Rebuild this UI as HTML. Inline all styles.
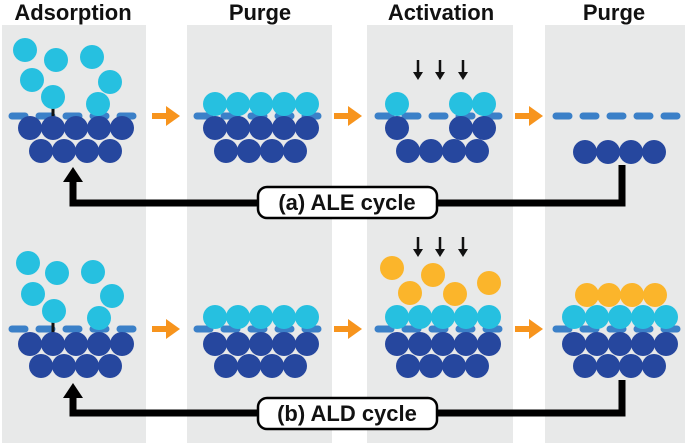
<!DOCTYPE html>
<html><head><style>body{margin:0;background:#fff}svg{display:block}</style></head><body>
<svg width="685" height="443" viewBox="0 0 685 443" xmlns="http://www.w3.org/2000/svg" font-family="Liberation Sans, sans-serif">
<defs>
<g id="arw"><rect x="0" y="-3" width="16" height="6" fill="#f7941d"/><polygon points="14,-10 28,0 14,10" fill="#f7941d"/></g>
<g id="dn"><line x1="0" y1="0" x2="0" y2="15" stroke="#111" stroke-width="2.5"/><polygon points="-5,12 5,12 0,20" fill="#111"/></g>
</defs>
<rect x="2" y="25" width="144" height="418" fill="#e8e9e9"/>
<rect x="187" y="25" width="145" height="418" fill="#e8e9e9"/>
<rect x="367" y="25" width="146" height="418" fill="#e8e9e9"/>
<rect x="545" y="25" width="140" height="418" fill="#e8e9e9"/>
<g font-weight="bold" font-size="22" fill="#111" text-anchor="middle">
<text x="73" y="20">Adsorption</text><text x="260" y="20">Purge</text>
<text x="441" y="20">Activation</text><text x="614" y="20">Purge</text></g>
<g stroke="#3b80c8" stroke-width="7" stroke-linecap="round" stroke-dasharray="13 14">
<line x1="12" y1="116" x2="135" y2="116"/><line x1="197" y1="116" x2="320" y2="116"/>
<line x1="378" y1="116" x2="502" y2="116"/><line x1="556" y1="116" x2="682" y2="116"/>
<line x1="12" y1="329" x2="135" y2="329"/><line x1="197" y1="329" x2="320" y2="329"/>
<line x1="378" y1="329" x2="502" y2="329"/><line x1="556" y1="329" x2="682" y2="329"/></g>
<use href="#arw" x="152" y="116"/><use href="#arw" x="334" y="116"/><use href="#arw" x="515" y="116"/>
<use href="#arw" x="152" y="329"/><use href="#arw" x="334" y="329"/><use href="#arw" x="515" y="329"/>
<g stroke="#111" stroke-width="3">
<line x1="53" y1="106" x2="53" y2="120"/><line x1="53" y1="319" x2="53" y2="333"/></g>
<g fill="#26479e">
<circle cx="30" cy="128" r="12"/><circle cx="53" cy="128" r="12"/><circle cx="76" cy="128" r="12"/><circle cx="99" cy="128" r="12"/><circle cx="122" cy="128" r="12"/>
<circle cx="41" cy="151" r="12"/><circle cx="64" cy="151" r="12"/><circle cx="87" cy="151" r="12"/><circle cx="110" cy="151" r="12"/>
<circle cx="215" cy="128" r="12"/><circle cx="238" cy="128" r="12"/><circle cx="261" cy="128" r="12"/><circle cx="284" cy="128" r="12"/><circle cx="307" cy="128" r="12"/>
<circle cx="226" cy="151" r="12"/><circle cx="249" cy="151" r="12"/><circle cx="272" cy="151" r="12"/><circle cx="295" cy="151" r="12"/>
<circle cx="397" cy="128" r="12"/><circle cx="461" cy="128" r="12"/><circle cx="484" cy="128" r="12"/>
<circle cx="408" cy="151" r="12"/><circle cx="431" cy="151" r="12"/><circle cx="454" cy="151" r="12"/><circle cx="477" cy="151" r="12"/>
<circle cx="585" cy="152" r="12"/><circle cx="608" cy="152" r="12"/><circle cx="631" cy="152" r="12"/><circle cx="654" cy="152" r="12"/>
</g>
<g fill="#26c0e0">
<circle cx="25" cy="50" r="12"/><circle cx="56" cy="60" r="12"/><circle cx="92" cy="57" r="12"/><circle cx="32" cy="80" r="12"/><circle cx="110" cy="82" r="12"/><circle cx="53" cy="97" r="12"/><circle cx="98" cy="104" r="12"/>
<circle cx="215" cy="104" r="12"/><circle cx="238" cy="104" r="12"/><circle cx="261" cy="104" r="12"/><circle cx="284" cy="104" r="12"/><circle cx="307" cy="104" r="12"/>
<circle cx="397" cy="104" r="12"/><circle cx="461" cy="104" r="12"/><circle cx="484" cy="104" r="12"/>
</g>
<use href="#dn" x="418" y="60"/><use href="#dn" x="440" y="60"/><use href="#dn" x="463" y="60"/>
<g fill="#26479e">
<circle cx="30" cy="344" r="12"/><circle cx="53" cy="344" r="12"/><circle cx="76" cy="344" r="12"/><circle cx="99" cy="344" r="12"/><circle cx="122" cy="344" r="12"/>
<circle cx="41" cy="366" r="12"/><circle cx="64" cy="366" r="12"/><circle cx="87" cy="366" r="12"/><circle cx="110" cy="366" r="12"/>
<circle cx="215" cy="344" r="12"/><circle cx="238" cy="344" r="12"/><circle cx="261" cy="344" r="12"/><circle cx="284" cy="344" r="12"/><circle cx="307" cy="344" r="12"/>
<circle cx="226" cy="366" r="12"/><circle cx="249" cy="366" r="12"/><circle cx="272" cy="366" r="12"/><circle cx="295" cy="366" r="12"/>
<circle cx="397" cy="344" r="12"/><circle cx="420" cy="344" r="12"/><circle cx="443" cy="344" r="12"/><circle cx="466" cy="344" r="12"/><circle cx="489" cy="344" r="12"/>
<circle cx="408" cy="366" r="12"/><circle cx="431" cy="366" r="12"/><circle cx="454" cy="366" r="12"/><circle cx="477" cy="366" r="12"/>
<circle cx="574" cy="344" r="12"/><circle cx="597" cy="344" r="12"/><circle cx="620" cy="344" r="12"/><circle cx="643" cy="344" r="12"/><circle cx="666" cy="344" r="12"/>
<circle cx="585" cy="366" r="12"/><circle cx="608" cy="366" r="12"/><circle cx="631" cy="366" r="12"/><circle cx="654" cy="366" r="12"/>
</g>
<g fill="#26c0e0">
<circle cx="28" cy="263" r="12"/><circle cx="57" cy="273" r="12"/><circle cx="93" cy="272" r="12"/><circle cx="33" cy="294" r="12"/><circle cx="112" cy="296" r="12"/><circle cx="54" cy="311" r="12"/><circle cx="99" cy="318" r="12"/>
<circle cx="215" cy="317" r="12"/><circle cx="238" cy="317" r="12"/><circle cx="261" cy="317" r="12"/><circle cx="284" cy="317" r="12"/><circle cx="307" cy="317" r="12"/>
<circle cx="397" cy="317" r="12"/><circle cx="420" cy="317" r="12"/><circle cx="443" cy="317" r="12"/><circle cx="466" cy="317" r="12"/><circle cx="489" cy="317" r="12"/>
<circle cx="574" cy="317" r="12"/><circle cx="597" cy="317" r="12"/><circle cx="620" cy="317" r="12"/><circle cx="643" cy="317" r="12"/><circle cx="666" cy="317" r="12"/>
</g>
<g fill="#fbb52b">
<circle cx="392" cy="268" r="12"/><circle cx="433" cy="275" r="12"/><circle cx="489" cy="283" r="12"/><circle cx="410" cy="293" r="12"/><circle cx="455" cy="294" r="12"/>
<circle cx="587" cy="295" r="12"/><circle cx="609" cy="295" r="12"/><circle cx="632" cy="295" r="12"/><circle cx="655" cy="295" r="12"/>
</g>
<use href="#dn" x="418" y="237"/><use href="#dn" x="440" y="237"/><use href="#dn" x="463" y="237"/>
<g fill="none" stroke="#000" stroke-width="7">
<polyline points="622,165 622,203 73,203 73,180"/>
<polyline points="622,380 622,413 73,413 73,396"/></g>
<polygon points="63,182 83,182 73,167" fill="#000"/>
<polygon points="63,398 83,398 73,383" fill="#000"/>
<g fill="#fff" stroke="#000" stroke-width="2.5">
<rect x="258" y="187" width="179" height="31" rx="9"/>
<rect x="258" y="398" width="179" height="31" rx="9"/></g>
<g font-weight="bold" font-size="22" fill="#111" text-anchor="middle">
<text x="347" y="210">(a) ALE cycle</text><text x="347" y="421">(b) ALD cycle</text></g>
</svg>
</body></html>
